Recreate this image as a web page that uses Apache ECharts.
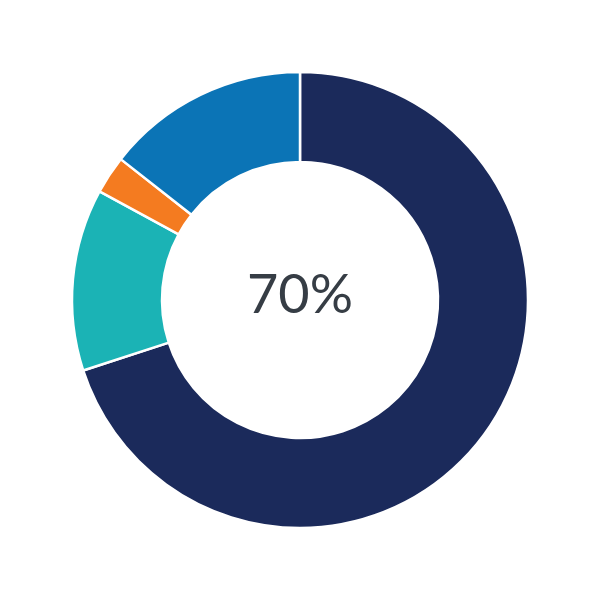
<!DOCTYPE html>
<html><head><meta charset="utf-8">
<script src="https://cdn.jsdelivr.net/npm/echarts@6/dist/echarts.min.js"></script>
<style>html,body{margin:0;padding:0;background:#fff}#c{width:600px;height:600px}</style>
</head><body><div id="c"></div>
<script>
const categories = ['A', 'B', 'C', 'D'];
const values = [70, 12.9, 2.7, 14.4];
const colors = ['#1b2a5b', '#1bb3b5', '#f47b20', '#0b74b6'];
const centerLabel = '70%';

const chart = echarts.init(document.getElementById('c'));
chart.setOption({
  animation: false,
  graphic: [{
    type: 'text', left: 'center', top: 269,
    style: { text: centerLabel, font: '400 54px Lato', fill: '#363d45' }
  }],
  series: [{
    type: 'pie',
    center: [300, 300],
    radius: [138, 228],
    startAngle: 90,
    clockwise: true,
    label: { show: false },
    labelLine: { show: false },
    emphasis: { disabled: true },
    itemStyle: { borderColor: '#fff', borderWidth: 2.5 },
    data: categories.map((c, i) => ({ name: c, value: values[i], itemStyle: { color: colors[i] } }))
  }]
});
</script></body></html>
